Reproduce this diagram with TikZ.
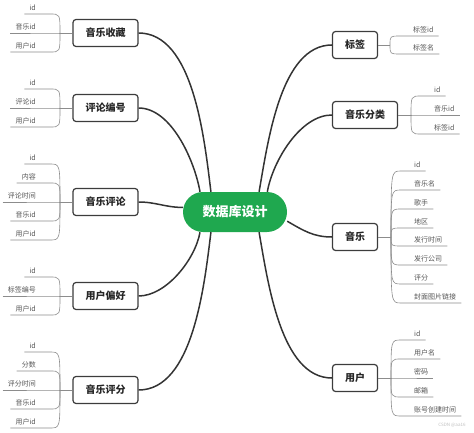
\documentclass[tikz,border=0pt]{standalone}
\usepackage{fontspec}
\setmainfont{Noto Sans CJK SC}
\definecolor{rootgreen}{HTML}{1FA84F}
\definecolor{linegray}{HTML}{333333}
\definecolor{twiggray}{HTML}{8C8C8C}
\definecolor{leaftext}{HTML}{555555}
\definecolor{boxline}{HTML}{3C3C3C}
\tikzset{
  root/.style={fill=rootgreen, text=white, rounded corners=20pt, minimum width=104pt,
    minimum height=40pt, font=\fontsize{13}{15}\selectfont\bfseries},
  topic/.style={draw=boxline, line width=1.2pt, rounded corners=3pt, minimum height=27pt,
    inner xsep=12.5pt, text=black!85, font=\fontsize{10}{12}\selectfont\bfseries},
  leafL/.style={anchor=south east, inner xsep=5pt, inner ysep=2.5pt, text height=6pt,
    text depth=1pt, text=leaftext, font=\fontsize{7}{8}\selectfont},
  leafR/.style={leafL, anchor=south west},
  branch/.style={draw=linegray, line width=1.5pt},
  twig/.style={draw=twiggray, line width=0.6pt},
}
\begin{document}
\begin{tikzpicture}[x=1pt, y=1pt]
  \useasboundingbox (0,0) rectangle (474,-433);

  \node[root] (db) at (235,-212) {数据库设计};

  \node[topic] (fav) at (105.5,-33) {音乐收藏};
  \node[topic] (cnum) at (105.5,-108) {评论编号};
  \node[topic] (cmt) at (105.5,-202) {音乐评论};
  \node[topic] (pref) at (105.5,-296) {用户偏好};
  \node[topic] (rate) at (105.5,-390) {音乐评分};
  \node[topic] (tag) at (355,-45) {标签};
  \node[topic] (cls) at (365,-115) {音乐分类};
  \node[topic] (music) at (355,-237) {音乐};
  \node[topic] (user) at (355,-378) {用户};

  \draw[branch] (fav.east) to[out=0, in=97, looseness=0.8] (db.140);
  \draw[branch] (cnum.east) to[out=0, in=100, looseness=0.8] (db.150);
  \draw[branch] (cmt.east) to[out=0, in=180] (db.175);
  \draw[branch] (pref.east) to[out=0, in=-100, looseness=0.8] (db.210);
  \draw[branch] (rate.east) to[out=0, in=-97, looseness=0.8] (db.220);
  \draw[branch] (tag.west) to[out=180, in=80, looseness=0.8] (db.40);
  \draw[branch] (cls.west) to[out=180, in=80, looseness=0.8] (db.32);
  \draw[branch] (music.west) to[out=180, in=-30] (db.-10);
  \draw[branch] (user.west) to[out=180, in=-80, looseness=0.8] (db.-40);

  % left leaves
  \coordinate (favJ) at (60,-33);
  \draw[twig] (favJ) -- (fav.west);
  \foreach \t/\y [count=\i] in {id/14, 音乐id/33, 用户id/52}{
    \node[leafL] (fav\i) at (41,-\y) {\t};
    \draw[twig] (fav\i.south west) -- (50,-\y) .. controls (60,-\y) .. (favJ);
  }
  \coordinate (cnumJ) at (60,-108);
  \draw[twig] (cnumJ) -- (cnum.west);
  \foreach \t/\y [count=\i] in {id/89, 评论id/108, 用户id/127}{
    \node[leafL] (cnum\i) at (41,-\y) {\t};
    \draw[twig] (cnum\i.south west) -- (50,-\y) .. controls (60,-\y) .. (cnumJ);
  }
  \coordinate (cmtJ) at (60,-202);
  \draw[twig] (cmtJ) -- (cmt.west);
  \foreach \t/\y [count=\i] in {id/164, 内容/183, 评论时间/202, 音乐id/221, 用户id/240}{
    \node[leafL] (cmt\i) at (41,-\y) {\t};
    \draw[twig] (cmt\i.south west) -- (50,-\y) .. controls (60,-\y) .. (cmtJ);
  }
  \coordinate (prefJ) at (60,-296);
  \draw[twig] (prefJ) -- (pref.west);
  \foreach \t/\y [count=\i] in {id/277, 标签编号/296, 用户id/315}{
    \node[leafL] (pref\i) at (41,-\y) {\t};
    \draw[twig] (pref\i.south west) -- (50,-\y) .. controls (60,-\y) .. (prefJ);
  }
  \coordinate (rateJ) at (60,-390);
  \draw[twig] (rateJ) -- (rate.west);
  \foreach \t/\y [count=\i] in {id/352, 分数/371, 评分时间/390, 音乐id/409, 用户id/428}{
    \node[leafL] (rate\i) at (41,-\y) {\t};
    \draw[twig] (rate\i.south west) -- (50,-\y) .. controls (60,-\y) .. (rateJ);
  }

  % right leaves
  \coordinate (tagJ) at (390,-45);
  \draw[twig] (tag.east) -- (tagJ);
  \foreach \t/\y [count=\i] in {标签id/36, 标签名/54}{
    \node[leafR] (tag\i) at (408,-\y) {\t};
    \draw[twig] (tagJ) .. controls (390,-\y) .. (400,-\y) -- (tag\i.south east);
  }
  \coordinate (clsJ) at (411,-115);
  \draw[twig] (cls.east) -- (clsJ);
  \foreach \t/\y [count=\i] in {id/96, 音乐id/115, 标签id/134}{
    \node[leafR] (cls\i) at (429,-\y) {\t};
    \draw[twig] (clsJ) .. controls (411,-\y) .. (421,-\y) -- (cls\i.south east);
  }
  \coordinate (musicJ) at (391,-237);
  \draw[twig] (music.east) -- (musicJ);
  \foreach \t/\y [count=\i] in {id/171, 音乐名/190, 歌手/209, 地区/228, 发行时间/246,
      发行公司/265, 评分/284, 封面图片链接/303}{
    \node[leafR] (music\i) at (409,-\y) {\t};
    \draw[twig] (musicJ) .. controls (391,-\y) .. (401,-\y) -- (music\i.south east);
  }
  \coordinate (userJ) at (391,-378);
  \draw[twig] (user.east) -- (userJ);
  \foreach \t/\y [count=\i] in {id/340, 用户名/359, 密码/378, 邮箱/397, 账号创建时间/416}{
    \node[leafR] (user\i) at (409,-\y) {\t};
    \draw[twig] (userJ) .. controls (391,-\y) .. (401,-\y) -- (user\i.south east);
  }

  \node[text=black!25, font=\fontsize{4.5}{5}\selectfont] (mark) at (452,-425) {CSDN @aa16};
\end{tikzpicture}
\end{document}
